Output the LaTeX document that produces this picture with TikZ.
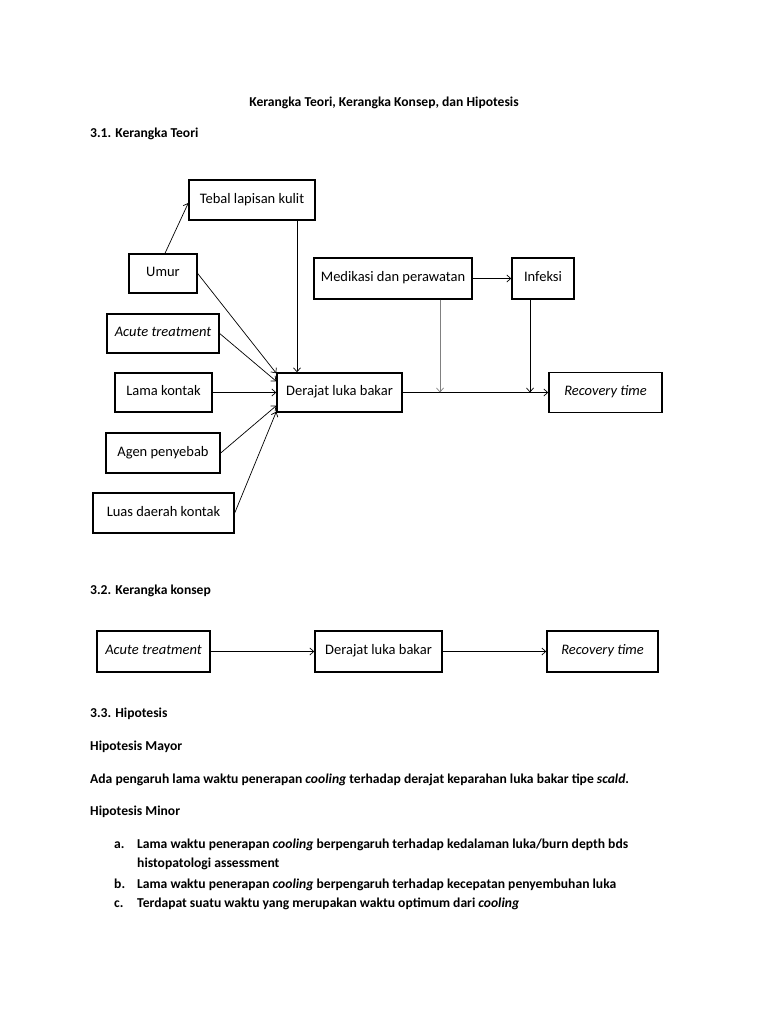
\documentclass[tikz,border=0pt]{standalone}
\usepackage{fontspec}
\setmainfont{Carlito}
\usetikzlibrary{arrows.meta}
\begin{document}
\begin{tikzpicture}[x=1pt,y=-1pt,
    box node/.style={draw,line width=1.4pt,minimum height=40,inner sep=0pt,text height=10pt,text depth=3.5pt,font=\fontsize{14.5}{16}\selectfont},
    head/.style={anchor=base west,inner sep=0pt,font=\bfseries\fontsize{13.6}{16}\selectfont},
    every edge/.style={draw,line width=0.7pt,-{Straight Barb[length=4pt,width=7pt]}}]
        \useasboundingbox[fill=white] (0,0) rectangle (768,1024);

        % headings
        \node[head,anchor=base] at (384, 107) (title) {Kerangka Teori, Kerangka Konsep, dan Hipotesis};
        \node[head] at (90, 138) (teori) {3.1. Kerangka Teori};
        \node[head] at (90, 594) (konsep) {3.2. Kerangka konsep};
        \node[head] at (90, 717) (hipo) {3.3. Hipotesis};

        % 3.1 kerangka teori
        \node[box node,minimum width=126] at (252, 200) (tebal) {Tebal lapisan kulit};
        \node[box node,minimum width=68,minimum height=39] at (163, 273.5) (umur) {Umur};
        \node[box node,minimum width=112,minimum height=39] at (163, 333.5) (acute) {\itshape Acute treatment};
        \node[box node,minimum width=97,minimum height=39] at (163.5, 392.5) (lama) {Lama kontak};
        \node[box node,minimum width=114] at (163, 453) (agen) {Agen penyebab};
        \node[box node,minimum width=141] at (163.5, 513) (luas) {Luas daerah kontak};
        \node[box node,minimum width=125,minimum height=39] at (339.5, 392.5) (derajat) {Derajat luka bakar};
        \node[box node,minimum width=158,minimum height=41] at (393, 278.5) (medikasi) {Medikasi dan perawatan};
        \node[box node,minimum width=62,minimum height=41] at (543, 278.5) (infeksi) {Infeksi};
        \node[box node,minimum width=113] at (605.5, 392.5) (recovery) {\itshape Recovery time};
        \coordinate (m) at (440, 392.5);
        \coordinate (i) at (530, 392.5);

        \path
            ([xshift=2]umur.north) edge ([yshift=-3]tebal.west)
            ([xshift=45]tebal.south) edge ([xshift=45]tebal.south |- derajat.north)
            (umur.east) edge ([yshift=-1]derajat.north west)
            (acute.east) edge ([yshift=-9]derajat.north west)
            (lama) edge (derajat)
            (agen.east) edge ([yshift=7]derajat.south west)
            (luas.east) edge ([yshift=1]derajat.south west)
            (derajat) edge (recovery)
            (medikasi) edge (infeksi)
            (medikasi.south -| m) edge[gray] (m)
            (infeksi.south -| i) edge (i)
            ;

        % 3.2 kerangka konsep
        \node[box node,minimum width=113,minimum height=41] at (153.5, 651.5) (acute2) {\itshape Acute treatment};
        \node[box node,minimum width=127,minimum height=41] at (378.5, 651.5) (derajat2) {Derajat luka bakar};
        \node[box node,minimum width=111,minimum height=41] at (602.5, 651.5) (recovery2) {\itshape Recovery time};
        \path (acute2) edge (derajat2)
              (derajat2) edge (recovery2);

        % 3.3 hipotesis
        \node[head] at (90, 750) (mayor) {Hipotesis Mayor};
        \node[head] at (90, 783) (mayortxt) {Ada pengaruh lama waktu penerapan \textit{cooling} terhadap derajat keparahan luka bakar tipe \textit{scald}.};
        \node[head] at (90, 815) (minor) {Hipotesis Minor};
        \node[head] at (114, 848) (la) {a.};
        \node[head] at (137, 848) (ta) {Lama waktu penerapan \textit{cooling} berpengaruh terhadap kedalaman luka/burn depth bds};
        \node[head] at (137, 867) (ta2) {histopatologi assessment};
        \node[head] at (114, 888) (lb) {b.};
        \node[head] at (137, 888) (tb) {Lama waktu penerapan \textit{cooling} berpengaruh terhadap kecepatan penyembuhan luka};
        \node[head] at (114, 907) (lc) {c.};
        \node[head] at (137, 907) (tc) {Terdapat suatu waktu yang merupakan waktu optimum dari \textit{cooling}};
\end{tikzpicture}
\end{document}
